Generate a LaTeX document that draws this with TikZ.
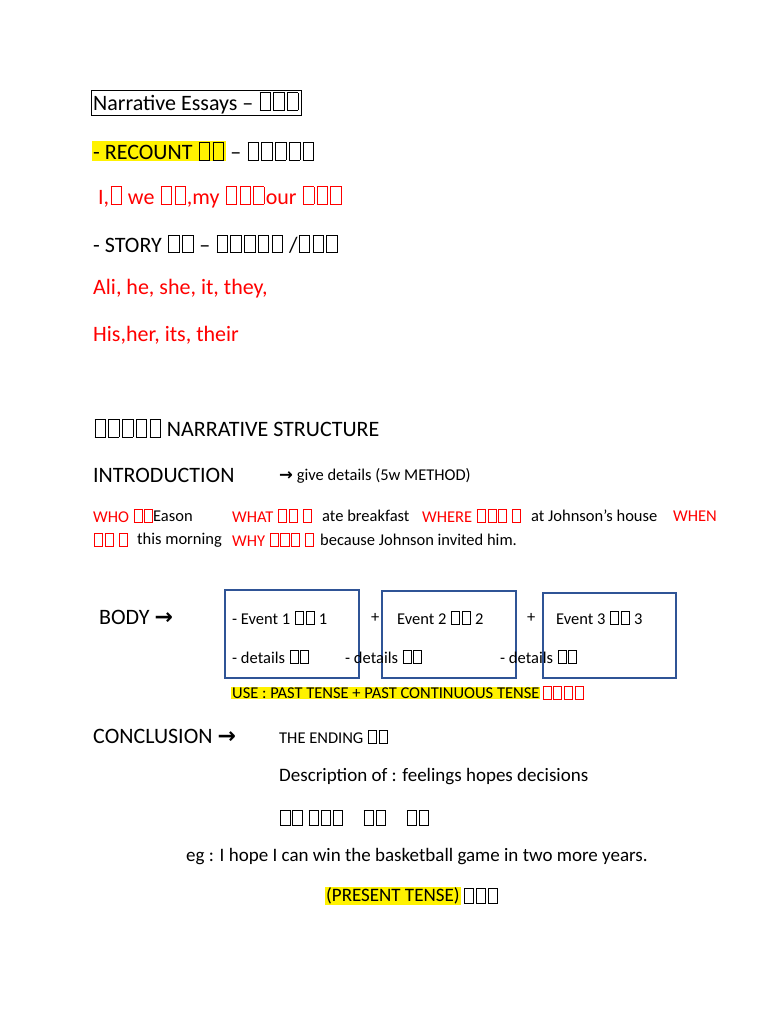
\documentclass[tikz,border=0pt]{standalone}
\usepackage{fontspec}
\setmainfont{Carlito}
\newfontfamily\sym{DejaVu Sans}
\usetikzlibrary{positioning}
\definecolor{boxblue}{RGB}{47,84,150}
\newcommand{\onebox}{{\setlength{\fboxsep}{0pt}\setlength{\fboxrule}{0.5pt}\kern0.06em\fbox{\rule{0pt}{0.78em}\hspace{0.46em}}\kern0.06em}}
\newcommand{\tf}[1]{\foreach \i in {1,...,#1}{\onebox}}
\newcommand{\ar}{{\sym\bfseries→}}
\tikzset{
  txt/.style={anchor=west, inner sep=0pt, font=\fontsize{22}{26}\selectfont},
  small/.style={txt, font=\fontsize{16.5}{19}\selectfont},
  mid/.style={txt, font=\fontsize{19}{22}\selectfont},
  hl/.style={fill=yellow, inner sep=1pt},
  eventbox/.style={draw=boxblue, line width=1.6pt}
}
\begin{document}
\begin{tikzpicture}[x=1pt,y=-1pt]
\useasboundingbox[fill=white] (0,0) rectangle (768,1024);

% title and pronouns
\node[txt, draw, inner sep=2pt] (title) at (91,103) {Narrative Essays – \tf{3}};
\node[txt, hl] (recount) at (92,151) {- RECOUNT \tf{2}};
\node[txt, right=4pt of recount] (recountzh) {– \tf{5}};
\node[txt, red] (first) at (98,197) {I,\tf{1} we \tf{2},my \tf{3}our \tf{3}};
\node[txt] (story) at (93,244) {- STORY \tf{2} – \tf{5} /\tf{3}};
\node[txt, red] (third) at (93,289) {Ali, he, she, it, they,};
\node[txt, red] (poss) at (93,335) {His,her, its, their};

% structure
\node[txt] (structure) at (93,428) {\tf{5} NARRATIVE STRUCTURE};
\node[txt] (intro) at (93,475) {INTRODUCTION};
\node[small] (introtxt) at (279,476) {\ar{} give details (5w METHOD)};

\node[small, red] (who) at (93,516) {WHO \tf{2}};
\node[small] (eason) at (153,516) {Eason};
\node[small, red] (what) at (232,516) {WHAT \tf{2} \tf{1}};
\node[small] (ate) at (322,516) {ate breakfast};
\node[small, red] (where) at (422,516) {WHERE \tf{3} \tf{1}};
\node[small] (house) at (531,516) {at Johnson’s house};
\node[small, red] (when) at (673,516) {WHEN};
\node[small, red] (whenzh) at (93,540) {\tf{2} \tf{1}};
\node[small] (morning) at (137,540) {this morning};
\node[small, red] (why) at (232,540) {WHY \tf{3} \tf{1}};
\node[small] (because) at (320,540) {because Johnson  invited him.};

% body
\node[txt] (body) at (99,617) {BODY \ar};
\draw[eventbox] (225,590) rectangle (359,678);
\draw[eventbox] (382,591) rectangle (516,678);
\draw[eventbox] (543,593) rectangle (676,678);
\node[small] (ev1) at (232,618) {- Event 1  \tf{2} 1};
\node[small] (plus1) at (371,618) {+};
\node[small] (ev2) at (397,618) {Event 2  \tf{2} 2};
\node[small] (plus2) at (527,618) {+};
\node[small] (ev3) at (556,618) {Event 3  \tf{2} 3};
\node[small] (det1) at (232,657) {- details \tf{2}};
\node[small] (det2) at (345,657) {- details \tf{2}};
\node[small] (det3) at (500,657) {- details \tf{2}};
\node[small, hl] (use) at (231,693) {USE : PAST TENSE + PAST CONTINUOUS TENSE};
\node[small, red, right=1pt of use] (usezh) {\tf{4}};

% conclusion
\node[txt] (concl) at (93,736) {CONCLUSION \ar};
\node[small] (ending) at (279,737) {THE ENDING \tf{2}};
\node[mid] (desc) at (279,777) {Description of : feelings  hopes decisions};
\node[mid] (desczh) at (279,818) {\tf{2} \tf{3}\quad\tf{2}\quad\tf{2}};
\node[mid] (eg) at (186,857) {eg : I hope I can win the basketball game in two more years.};
\node[mid, hl] (present) at (325,896) {(PRESENT TENSE)};
\node[mid, right=2pt of present] (presentzh) {\tf{3}};
\end{tikzpicture}
\end{document}
